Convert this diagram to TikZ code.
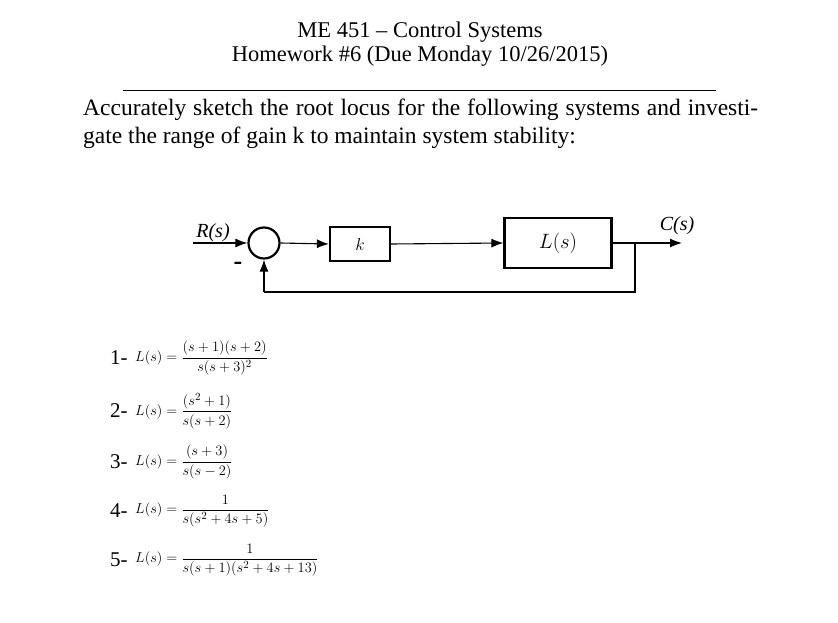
\documentclass[tikz,border=0pt]{standalone}
\usepackage{amsmath}
\usepackage{fontspec}
\setmainfont{Liberation Serif}
\usetikzlibrary{arrows.meta}
\tikzset{
  blk/.style={draw,line width=2.2pt,inner sep=0pt},
  sig/.style={line width=1.1pt,-{Latex[length=12pt,width=9pt]}},
  wire/.style={line width=1.1pt},
  eq/.style={anchor=west,inner sep=0pt,font=\fontsize{15}{17}\selectfont},
  num/.style={anchor=west,inner sep=0pt,font=\fontsize{21}{24}\selectfont}
}
\begin{document}
\begin{tikzpicture}[x=1pt,y=-1pt]
\useasboundingbox (0,0) rectangle (838,623);
\node[font=\fontsize{22.5}{23.5}\selectfont,align=center] (title) at (420,44) {ME 451 -- Control Systems\\Homework \#6 (Due Monday 10/26/2015)};
\draw[line width=0.8pt] (123,90) -- (716,90);
\node[anchor=north west,inner sep=0pt,text width=675pt,align=justify,font=\fontsize{23.5}{28}\selectfont] (para) at (83,99) {Accurately sketch the root locus for the following systems and investigate the range of gain k to maintain system stability:};
% block diagram
\node[draw,circle,line width=2.2pt,minimum size=31pt,inner sep=0pt] (sum) at (264,243) {};
\node[blk,minimum width=60pt,minimum height=34pt] (kb) at (360,244) {\fontsize{17}{18}\selectfont$k$};
\node[blk,minimum width=107pt,minimum height=50pt] (lb) at (558,243) {\fontsize{22}{24}\selectfont$L(s)$};
\coordinate (rin) at (193,243);
\coordinate (cout) at (682,243);
\coordinate (tap) at (635,243);
\coordinate (fb1) at (635,292);
\coordinate (fb2) at (264,292);
\draw[sig] (rin) -- (sum.west);
\draw[sig] (sum.east) -- (kb.west);
\draw[sig] (kb.east) -- (lb.west);
\draw[sig] (lb.east) -- (cout);
\draw[wire] (tap) -- (fb1) -- (fb2);
\draw[sig] (fb2) -- (sum.south);
\node[font=\fontsize{20}{22}\selectfont\itshape] (rl) at (213,233) {R(s)};
\node[font=\fontsize{20}{22}\selectfont\itshape] (cl) at (677,226) {C(s)};
\node[font=\fontsize{26}{26}\selectfont\bfseries] (minus) at (238,266) {-};
% equations
\node[num] (n1) at (110,358) {1-};
\node[eq] (e1) at (135,358) {$L(s)=\dfrac{(s+1)(s+2)}{s(s+3)^2}$};
\node[num] (n2) at (110,411) {2-};
\node[eq] (e2) at (135,411) {$L(s)=\dfrac{(s^2+1)}{s(s+2)}$};
\node[num] (n3) at (110,462) {3-};
\node[eq] (e3) at (135,462) {$L(s)=\dfrac{(s+3)}{s(s-2)}$};
\node[num] (n4) at (110,511) {4-};
\node[eq] (e4) at (135,511) {$L(s)=\dfrac{1}{s(s^2+4s+5)}$};
\node[num] (n5) at (110,560) {5-};
\node[eq] (e5) at (135,560) {$L(s)=\dfrac{1}{s(s+1)(s^2+4s+13)}$};
\end{tikzpicture}
\end{document}
